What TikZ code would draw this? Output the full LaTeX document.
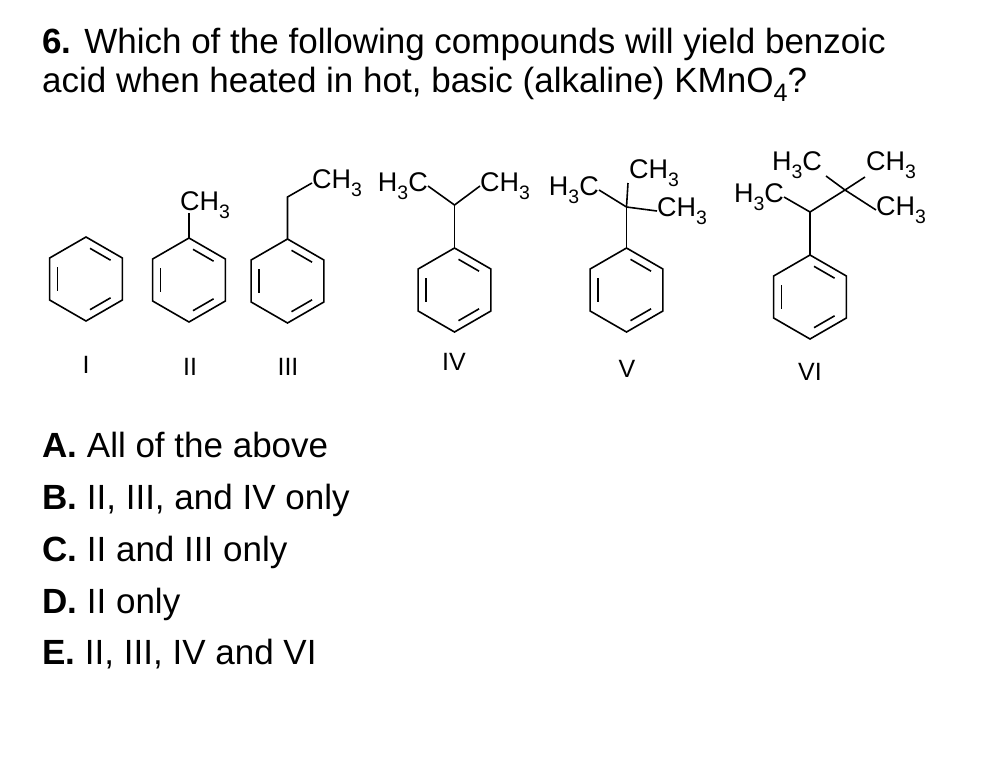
\documentclass[tikz,border=0pt]{standalone}
\usepackage{fontspec}
\setmainfont{Liberation Sans}
\usetikzlibrary{calc}
\newcommand\dn[1]{\raisebox{-0.28em}{\scalebox{0.72}{#1}}}
\tikzset{bond/.style={line width=1.6pt},
 grp/.style={inner sep=0pt,font=\fontsize{27}{27}\selectfont},
 num/.style={inner sep=0pt,font=\fontsize{25}{25}\selectfont},
 txt/.style={inner sep=0pt,anchor=base west,font=\fontsize{35}{35}\selectfont},
 ans/.style={inner sep=0pt,anchor=base west,font=\fontsize{35}{35}\selectfont}}
\newcommand\benz[3]{%
 \begin{scope}[shift={(#1,#2)}]
 \coordinate (#3) at (-90:42);
 \draw[bond] (-90:42)--(-30:42)--(30:42)--(90:42)--(150:42)--(210:42)--cycle;
 \foreach \a/\b in {-90/-30,30/90,150/210}{
  \draw[bond] ($(\a:33)!0.14!(\b:33)$)--($(\a:33)!0.86!(\b:33)$);}
 \end{scope}}
\begin{document}
\begin{tikzpicture}[x=1pt,y=-1pt,line join=miter]
\useasboundingbox[fill=white] (0,0) rectangle (982,758);
\node[txt] (t1) at (42,53) {\textbf{6.} Which of the following compounds will yield benzoic};
\node[txt] (t2) at (42,92) {acid when heated in hot, basic (alkaline) KMnO\dn{4}?};
% I
\benz{86}{279}{r1}
% II
\benz{189}{280}{r2}
\node[grp] (m2) at (205,205) {CH\dn{3}};
\draw[bond] (r2) -- (189,213);
% III
\benz{287.5}{281}{r3}
\coordinate (c3) at (287.5,197);
\node[grp,anchor=west] (m3) at (312,183) {CH\dn{3}};
\draw[bond] (r3) -- (c3) -- (m3.west);
% IV
\benz{454.5}{290}{r4}
\coordinate (c4) at (454.5,205);
\node[grp,anchor=east] (a4) at (428,186) {H\dn{3}C};
\node[grp,anchor=west] (b4) at (480,186) {CH\dn{3}};
\draw[bond] (r4)--(c4);
\draw[bond] (c4)--(a4.east);
\draw[bond] (c4)--(b4.west);
% V
\benz{626.5}{290}{r5}
\coordinate (c5) at (626.5,207);
\node[grp] (a5) at (654,173) {CH\dn{3}};
\node[grp,anchor=east] (b5) at (599,190) {H\dn{3}C};
\node[grp,anchor=west] (d5) at (657,211) {CH\dn{3}};
\draw[bond] (r5)--(c5);
\draw[bond] (c5)--(628,183);
\draw[bond] (c5)--(b5.east);
\draw[bond] (c5)--(d5.west);
% VI
\benz{810}{297}{r6}
\coordinate (c6) at (810,212);
\coordinate (q6) at (845,190);
\node[grp,anchor=east] (a6) at (784,197) {H\dn{3}C};
\node[grp] (b6) at (797,165) {H\dn{3}C};
\node[grp] (d6) at (891,165) {CH\dn{3}};
\node[grp,anchor=west] (e6) at (876,210) {CH\dn{3}};
\draw[bond] (r6)--(c6)--(a6.east);
\draw[bond] (c6)--(q6);
\draw[bond] (q6)--(826,176);
\draw[bond] (q6)--(865,177);
\draw[bond] (q6)--(e6.west);
% labels
\node[num] (l1) at (86,365) {I};
\node[num] (l2) at (190,367) {II};
\node[num] (l3) at (288,367) {III};
\node[num] (l4) at (454,362) {IV};
\node[num] (l5) at (627,369) {V};
\node[num] (l6) at (810,372) {VI};
% answers
\node[ans] (A) at (42,457) {\textbf{A.} All of the above};
\node[ans] (B) at (42,509) {\textbf{B.} II, III, and IV only};
\node[ans] (C) at (42,561) {\textbf{C.} II and III only};
\node[ans] (D) at (42,613) {\textbf{D.} II only};
\node[ans] (E) at (42,664) {\textbf{E.} II, III, IV and VI};
\end{tikzpicture}
\end{document}
